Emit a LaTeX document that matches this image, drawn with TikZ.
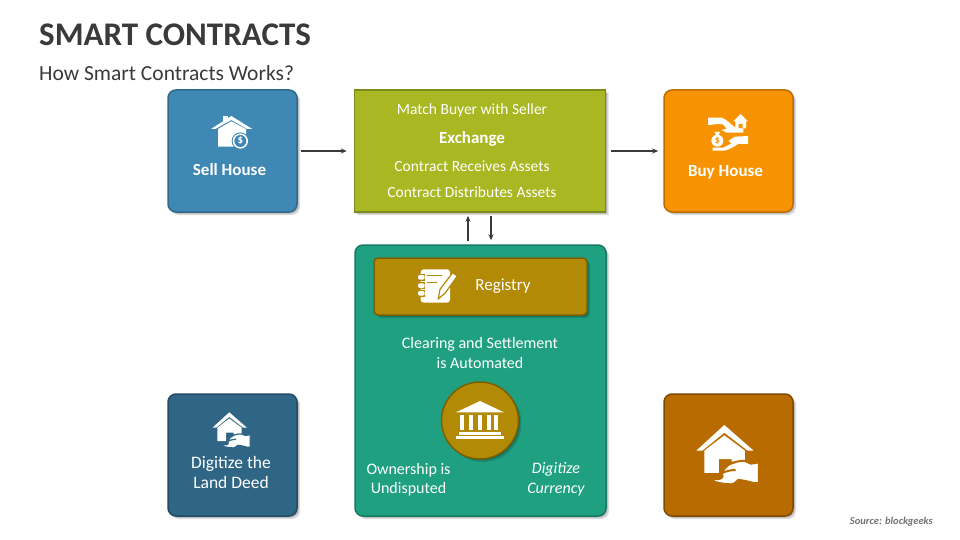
\documentclass[tikz,border=0pt]{standalone}
\usepackage{fontspec}
\setmainfont{Carlito}
\usetikzlibrary{shapes.misc,shadows,arrows.meta}
\definecolor{cblue}{HTML}{3E88B3}\definecolor{cblueb}{HTML}{2F6A8C}
\definecolor{colive}{HTML}{A9B723}\definecolor{coliveb}{HTML}{7E8A1A}
\definecolor{corange}{HTML}{F79300}\definecolor{corangeb}{HTML}{BB6F00}
\definecolor{cteal}{HTML}{1FA181}\definecolor{ctealb}{HTML}{167A62}
\definecolor{cgold}{HTML}{B38A05}\definecolor{cgoldb}{HTML}{7A5F04}
\definecolor{cdeep}{HTML}{2F6585}\definecolor{cdeepb}{HTML}{234C64}
\definecolor{cbrown}{HTML}{B86B00}\definecolor{cbrownb}{HTML}{7F4A00}
\definecolor{ctitle}{HTML}{3A3A3A}
\tikzset{
  softshadow/.style={drop shadow={shadow xshift=1.5pt,shadow yshift=-1.5pt,fill=black,opacity=.18},
                     drop shadow={shadow xshift=3pt,shadow yshift=-3pt,fill=black,opacity=.14}},
  card/.style={rounded corners=8pt,line width=1.5pt,inner sep=0pt,softshadow},
  square/.style={card,minimum width=129pt,minimum height=122pt},
  lab/.style={text=white,align=center,inner sep=0pt},
  sz/.style={font=\fontsize{#1}{20}\selectfont},
  arr/.style={draw=ctitle,line width=1.2pt,-{Stealth[length=6pt,width=5pt]}},
  ico/.style={fill=white,draw=none},
}
% house with a hand under it; #1 = x, #2 = y of the roof apex, #3 = scale, #4 = background
\newcommand{\housewithhand}[4]{%
  \begin{scope}[shift={(#1,#2)},scale=#3]
    \fill[white] (0,0) -- (88,77) -- (70,77) -- (0,23) -- (-66,77) -- (-84,77) -- cycle;
    \fill[white] (-60,77) -- (0,31) -- (62,77) -- (62,110) -- (22,110) -- (22,102) -- (-16,102) -- (-16,144) -- (-60,144) -- cycle;
    \path[fill=white,draw=#4,line width=2pt*#3*3]
      (-32,162) .. controls (-10,165) and (0,158) .. (-8,145)
      .. controls (0,130) and (10,118) .. (22,115)
      .. controls (40,108) and (55,106) .. (62,108)
      -- (80,116) -- (104,112) -- (104,175) -- (88,174)
      .. controls (70,170) and (55,165) .. (42,165)
      .. controls (34,172) and (28,178) .. (22,178)
      .. controls (5,178) and (-15,175) .. (-32,170) -- cycle;
    \draw[#4,line width=2pt*#3*3] (-8,145) .. controls (5,138) and (20,135) .. (34,135);
  \end{scope}}
\begin{document}
\begin{tikzpicture}[x=1pt,y=-1pt]
\useasboundingbox[fill=white] (0,0) rectangle (960,540);

% titles
\node[anchor=base west,inner sep=0pt,text=ctitle,font=\fontsize{33}{36}\selectfont\bfseries] (title) at (39,46) {SMART CONTRACTS};
\node[anchor=base west,inner sep=0pt,text=ctitle,font=\fontsize{21.5}{24}\selectfont] (subtitle) at (39,81) {How Smart Contracts Works?};

% boxes
\node[square,fill=cblue,draw=cblueb] (sell) at (232.5,151) {};
\node[square,fill=corange,draw=corangeb] (buy) at (728.5,151) {};
\node[square,fill=cdeep,draw=cdeepb] (deed) at (232.5,455) {};
\node[square,fill=cbrown,draw=cbrownb] (brown) at (728.5,455) {};
\node[chamfered rectangle,chamfered rectangle corners={north east,south west},chamfered rectangle xsep=14pt,chamfered rectangle ysep=14pt,
      minimum width=251pt,minimum height=122pt,inner sep=0pt,line width=1.5pt,fill=colive,draw=coliveb,softshadow] (contract) at (480,151) {};
\node[card,minimum width=251pt,minimum height=271pt,fill=cteal,draw=ctealb] (green) at (480.5,380.5) {};
\node[card,rounded corners=4pt,minimum width=213pt,minimum height=57pt,fill=cgold,draw=cgoldb] (registry) at (480.5,286.5) {};
\node[circle,minimum size=77pt,inner sep=0pt,line width=1.5pt,fill=cgold,draw=cgoldb,softshadow] (bank) at (480,420.5) {};

% connectors
\coordinate (upx) at (468,0);
\coordinate (downx) at (491,0);
\draw[arr,shorten <=3pt,shorten >=7pt] (sell.east) -- (contract.west);
\draw[arr,shorten <=5pt,shorten >=5pt] (contract.east) -- (buy.west);
\draw[arr,shorten <=3pt,shorten >=3pt] (green.north -| upx) -- (contract.south -| upx);
\draw[arr,shorten <=3pt,shorten >=4pt] (contract.south -| downx) -- (green.north -| downx);

% labels
\node[lab,sz=17,font=\fontsize{17}{20}\selectfont\bfseries] (t1) at (229.5,170) {Sell House};
\node[lab,font=\fontsize{17}{20}\selectfont\bfseries] (t2) at (725.5,172) {Buy House};
\node[lab,font=\fontsize{15.5}{20}\selectfont] (t3) at (472,110.5) {Match Buyer with Seller};
\node[lab,font=\fontsize{17}{20}\selectfont\bfseries] (t4) at (472,139) {Exchange};
\node[lab,font=\fontsize{15.5}{20}\selectfont] (t5) at (472,166.5) {Contract Receives Assets};
\node[lab,font=\fontsize{15.5}{20}\selectfont] (t6) at (472,192.5) {Contract Distributes Assets};
\node[lab,font=\fontsize{17}{20}\selectfont] (t7) at (503,286) {Registry};
\node[lab,font=\fontsize{16}{19.5}\selectfont] (t8) at (480,353) {Clearing and Settlement\\is Automated};
\node[lab,font=\fontsize{16}{19.5}\selectfont] (t9) at (408.5,479.5) {Ownership is\\Undisputed};
\node[lab,font=\fontsize{16}{19.5}\selectfont\itshape] (t10) at (556,479.5) {Digitize\\Currency};
\node[lab,font=\fontsize{17.5}{20.5}\selectfont] (t11) at (231,472.5) {Digitize the\\Land Deed};
\node[anchor=base east,inner sep=0pt,text=black!55,font=\fontsize{10.5}{12}\selectfont\bfseries\itshape] (source) at (933,524) {Source: blockgeeks};

% icon: house with dollar
\begin{scope}[shift={(160,80)},scale=1/3]
  \fill[white] (188,108) -- (203,108) -- (203,125) -- (188,125) -- cycle;
  \fill[white] (214,108) -- (277,147) -- (262,147) -- (214,120) -- (166,147) -- (153,147) -- cycle;
  \fill[white] (174,147) -- (214,124) -- (258,147) -- (258,200) -- (174,200) -- cycle;
  \path[fill=cblue] (241,183) circle (26);
  \path[fill=white] (241,183) circle (23);
  \path[fill=cblue] (241,183) circle (18);
\end{scope}
\node[inner sep=0pt,text=white,font=\fontsize{11}{12}\selectfont\bfseries] (dollar1) at (240.3,141) {\$};

% icon: hands, house and money bag
\begin{scope}[shift={(460,80)},scale=1/3]
  \fill[white] (744,113) -- (785,113) .. controls (800,118) and (815,135) .. (825,142)
     -- (850,146) -- (850,158) -- (800,158) -- (785,150) -- (800,146) -- (790,134) .. controls (780,128) and (760,135) .. (744,135) -- cycle;
  \fill[white] (864,168) -- (864,192) -- (835,192) .. controls (820,200) and (805,212) .. (790,212) -- (758,212) -- (758,203) -- (790,203) -- (815,190) -- (805,183) -- (825,170) -- cycle;
  \fill[white] (842,102) -- (864,124) -- (858,124) -- (858,145) -- (848,145) -- (848,132) -- (836,132) -- (836,145) -- (826,145) -- (826,124) -- (820,124) -- cycle;
  \fill[white] (772,182) circle (18);
  \fill[white] (764,156) -- (780,156) -- (776,165) -- (768,165) -- cycle;
\end{scope}
\node[inner sep=0pt,text=corange,font=\fontsize{10}{12}\selectfont\bfseries] (dollar2) at (717.3,140.7) {\$};

% icon: notebook and pencil
\begin{scope}[shift={(350,240)},scale=1/3]
  \fill[white,rounded corners=3pt] (212,88) rectangle (300,188);
  \foreach \ry in {112,137,160}{
    \fill[cgold] (198,\ry-11) rectangle (226,\ry+11);
    \fill[white,rounded corners=2pt] (204,\ry-7) rectangle (224,\ry+7);
  }
  \draw[cgold,line width=1.3pt] (232,107) -- (275,107);
  \draw[cgold,line width=1.3pt] (232,128) -- (262,128);
  \path[fill=white,draw=cgold,line width=1.2pt] (265,176) -- (270,148) -- (308,98) -- (322,108) -- (285,160) -- cycle;
\end{scope}

% icon: bank
\begin{scope}[shift={(350,375)},scale=1/3]
  \fill[white] (390,78) -- (462,112) -- (318,112) -- cycle;
  \foreach \cx in {337,365,393,421,437}{}
  \foreach \cx in {337,364,391,416,438}{\fill[white] (\cx-6,120) rectangle (\cx+6,165);}
  \fill[white] (328,170) rectangle (452,180);
  \fill[white] (318,183) rectangle (462,192);
\end{scope}

\housewithhand{229.3}{412.3}{.2}{cdeep}
\housewithhand{724.3}{425}{.3333}{cbrown}
\end{tikzpicture}
\end{document}
